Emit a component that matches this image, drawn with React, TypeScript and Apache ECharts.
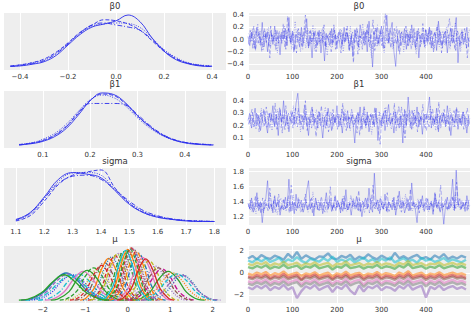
import React, { useEffect, useRef } from 'react';
import * as echarts from 'echarts';

// ---------- KDE panels (left column) ----------
const B0_X = [-0.44, -0.4, -0.35, -0.3, -0.25, -0.2, -0.15, -0.1, -0.05, 0, 0.05, 0.1, 0.15, 0.2, 0.25, 0.3, 0.35, 0.4];
const B0_KDE = [
  [0.03, 0.06, 0.16, 0.31, 0.68, 1.30, 1.92, 2.36, 2.54, 2.73, 3.07, 2.67, 1.71, 0.93, 0.43, 0.19, 0.06, 0.03],
  [0.06, 0.12, 0.25, 0.47, 0.87, 1.43, 2.05, 2.48, 2.79, 2.73, 2.54, 2.17, 1.55, 0.93, 0.47, 0.22, 0.09, 0.03],
  [0.06, 0.12, 0.25, 0.43, 0.81, 1.40, 1.98, 2.42, 2.54, 2.60, 2.57, 2.33, 1.71, 1.02, 0.56, 0.25, 0.12, 0.06],
  [0.03, 0.09, 0.19, 0.37, 0.78, 1.36, 2.02, 2.48, 2.60, 2.48, 2.36, 2.17, 1.61, 0.99, 0.50, 0.22, 0.09, 0.03],
];

const B1_X = [0.05, 0.08, 0.1, 0.125, 0.15, 0.175, 0.2, 0.225, 0.25, 0.275, 0.3, 0.325, 0.35, 0.375, 0.4, 0.43, 0.46];
const B1_KDE = [
  [0.0, 0.22, 0.50, 1.15, 2.30, 4.10, 6.05, 7.13, 6.91, 5.76, 4.03, 2.59, 1.44, 0.72, 0.29, 0.07, 0.0],
  [0.07, 0.29, 0.65, 1.37, 2.59, 4.32, 6.12, 6.98, 6.77, 5.62, 3.96, 2.59, 1.51, 0.79, 0.36, 0.14, 0.0],
  [0.07, 0.36, 0.79, 1.58, 2.88, 4.61, 6.19, 6.84, 6.48, 5.33, 3.74, 2.38, 1.37, 0.72, 0.36, 0.14, 0.07],
  [0.0, 0.29, 0.58, 1.30, 2.52, 4.46, 5.69, 5.69, 5.69, 5.47, 4.18, 2.74, 1.58, 0.79, 0.36, 0.14, 0.0],
];

const SIG_X = [1.1, 1.15, 1.2, 1.25, 1.3, 1.35, 1.4, 1.45, 1.5, 1.55, 1.6, 1.65, 1.7, 1.75, 1.8];
const SIG_KDE = [
  [0.16, 0.72, 1.92, 3.28, 3.80, 3.68, 3.40, 2.40, 1.36, 0.72, 0.36, 0.20, 0.08, 0.04, 0.04],
  [0.08, 0.48, 1.60, 2.88, 3.60, 3.84, 4.00, 2.60, 1.44, 0.72, 0.40, 0.20, 0.12, 0.08, 0.04],
  [0.12, 0.60, 1.80, 3.12, 3.76, 3.80, 3.60, 2.48, 1.48, 0.80, 0.44, 0.24, 0.12, 0.08, 0.04],
  [0.20, 0.68, 1.84, 2.96, 3.52, 3.60, 3.28, 2.48, 1.60, 0.88, 0.48, 0.24, 0.12, 0.04, 0.04],
];

const MU_KDE_COLORS = [
  '#1f77b4', '#9467bd', '#2a2eec', '#17becf', '#e377c2', '#2ca02c', '#bcbd22', '#8c564b', '#ff7f0e', '#d62728',
  '#9467bd', '#2ca02c', '#ff7f0e', '#d62728', '#8c564b', '#1f77b4', '#e377c2', '#bcbd22', '#9467bd', '#c10c90',
  '#2ca02c', '#17becf', '#1f77b4',
  '#17becf', '#2ca02c', '#d62728', '#1f77b4', '#bcbd22', '#17becf', '#2ca02c', '#9467bd', '#ff7f0e', '#d62728',
  '#8c564b', '#ff7f0e', '#9467bd', '#2ca02c',
];
const MU_KDE: number[][][] = [
  [[-2.51, 0], [-2.31, 0.03], [-1.98, 0.31], [-1.71, 0.80], [-1.45, 1.09], [-1.19, 0.80], [-0.92, 0.31], [-0.59, 0.03], [-0.39, 0]],
  [[-2.49, 0], [-2.28, 0.03], [-1.94, 0.29], [-1.67, 0.77], [-1.40, 1.05], [-1.13, 0.77], [-0.86, 0.29], [-0.52, 0.03], [-0.31, 0]],
  [[-2.32, 0], [-2.13, 0.03], [-1.81, 0.28], [-1.56, 0.74], [-1.30, 1.01], [-1.04, 0.74], [-0.79, 0.28], [-0.47, 0.03], [-0.28, 0]],
  [[-2.11, 0], [-1.93, 0.03], [-1.63, 0.29], [-1.39, 0.77], [-1.15, 1.05], [-0.91, 0.77], [-0.67, 0.29], [-0.37, 0.03], [-0.19, 0]],
  [[-1.95, 0], [-1.78, 0.03], [-1.50, 0.32], [-1.27, 0.85], [-1.05, 1.16], [-0.83, 0.85], [-0.60, 0.32], [-0.32, 0.03], [-0.15, 0]],
  [[-1.60, 0], [-1.45, 0.04], [-1.20, 0.36], [-1.00, 0.95], [-0.80, 1.30], [-0.60, 0.95], [-0.40, 0.36], [-0.15, 0.04], [0.00, 0]],
  [[-1.47, 0], [-1.32, 0.04], [-1.08, 0.35], [-0.89, 0.92], [-0.70, 1.26], [-0.51, 0.92], [-0.32, 0.35], [-0.08, 0.04], [0.07, 0]],
  [[-1.25, 0], [-1.12, 0.05], [-0.90, 0.42], [-0.73, 1.10], [-0.55, 1.51], [-0.37, 1.10], [-0.20, 0.42], [0.02, 0.05], [0.15, 0]],
  [[-1.12, 0], [-1.00, 0.05], [-0.79, 0.47], [-0.62, 1.23], [-0.45, 1.68], [-0.28, 1.23], [-0.11, 0.47], [0.10, 0.05], [0.22, 0]],
  [[-0.94, 0], [-0.82, 0.05], [-0.62, 0.50], [-0.46, 1.31], [-0.30, 1.79], [-0.14, 1.31], [0.02, 0.50], [0.22, 0.05], [0.34, 0]],
  [[-0.84, 0], [-0.72, 0.06], [-0.52, 0.53], [-0.36, 1.38], [-0.20, 1.89], [-0.04, 1.38], [0.12, 0.53], [0.32, 0.06], [0.44, 0]],
  [[-0.71, 0], [-0.59, 0.06], [-0.40, 0.55], [-0.25, 1.42], [-0.10, 1.95], [0.05, 1.42], [0.20, 0.55], [0.39, 0.06], [0.51, 0]],
  [[-0.61, 0], [-0.49, 0.06], [-0.30, 0.57], [-0.15, 1.49], [0.00, 2.04], [0.15, 1.49], [0.30, 0.57], [0.49, 0.06], [0.61, 0]],
  [[-0.53, 0], [-0.41, 0.06], [-0.22, 0.59], [-0.07, 1.53], [0.08, 2.10], [0.23, 1.53], [0.38, 0.59], [0.57, 0.06], [0.69, 0]],
  [[-0.46, 0], [-0.34, 0.06], [-0.15, 0.57], [0.00, 1.47], [0.15, 2.02], [0.30, 1.47], [0.45, 0.57], [0.64, 0.06], [0.76, 0]],
  [[-0.39, 0], [-0.27, 0.06], [-0.07, 0.53], [0.09, 1.38], [0.25, 1.89], [0.41, 1.38], [0.57, 0.53], [0.77, 0.06], [0.89, 0]],
  [[-0.32, 0], [-0.20, 0.05], [0.01, 0.48], [0.18, 1.26], [0.35, 1.72], [0.52, 1.26], [0.69, 0.48], [0.90, 0.05], [1.02, 0]],
  [[-0.20, 0], [-0.07, 0.05], [0.15, 0.44], [0.32, 1.15], [0.50, 1.58], [0.68, 1.15], [0.85, 0.44], [1.07, 0.05], [1.20, 0]],
  [[-0.12, 0], [0.03, 0.04], [0.27, 0.38], [0.46, 1.00], [0.65, 1.37], [0.84, 1.00], [1.03, 0.38], [1.27, 0.04], [1.42, 0]],
  [[0.00, 0], [0.15, 0.04], [0.40, 0.35], [0.60, 0.92], [0.80, 1.26], [1.00, 0.92], [1.20, 0.35], [1.45, 0.04], [1.60, 0]],
  [[0.09, 0], [0.25, 0.03], [0.52, 0.32], [0.73, 0.85], [0.95, 1.16], [1.17, 0.85], [1.38, 0.32], [1.65, 0.03], [1.81, 0]],
  [[0.19, 0], [0.37, 0.03], [0.67, 0.29], [0.91, 0.77], [1.15, 1.05], [1.39, 0.77], [1.63, 0.29], [1.93, 0.03], [2.11, 0]],
  [[0.47, 0], [0.62, 0.03], [0.88, 0.28], [1.09, 0.74], [1.30, 1.01], [1.51, 0.74], [1.72, 0.28], [1.98, 0.03], [2.13, 0]],
  [[-2.41, 0], [-2.21, 0.03], [-1.88, 0.28], [-1.61, 0.73], [-1.35, 1.00], [-1.09, 0.73], [-0.82, 0.28], [-0.49, 0.03], [-0.29, 0]],
  [[-1.81, 0], [-1.65, 0.04], [-1.38, 0.34], [-1.17, 0.88], [-0.95, 1.20], [-0.73, 0.88], [-0.52, 0.34], [-0.25, 0.04], [-0.09, 0]],
  [[-1.36, 0], [-1.22, 0.04], [-0.99, 0.39], [-0.80, 1.02], [-0.62, 1.40], [-0.44, 1.02], [-0.25, 0.39], [-0.02, 0.04], [0.12, 0]],
  [[-1.05, 0], [-0.93, 0.05], [-0.72, 0.49], [-0.55, 1.27], [-0.38, 1.74], [-0.21, 1.27], [-0.04, 0.49], [0.17, 0.05], [0.29, 0]],
  [[-0.89, 0], [-0.77, 0.06], [-0.57, 0.52], [-0.41, 1.35], [-0.25, 1.85], [-0.09, 1.35], [0.07, 0.52], [0.27, 0.06], [0.39, 0]],
  [[-0.66, 0], [-0.54, 0.06], [-0.35, 0.56], [-0.20, 1.46], [-0.05, 2.00], [0.10, 1.46], [0.25, 0.56], [0.44, 0.06], [0.56, 0]],
  [[-0.56, 0], [-0.44, 0.06], [-0.25, 0.58], [-0.10, 1.50], [0.05, 2.06], [0.20, 1.50], [0.35, 0.58], [0.54, 0.06], [0.66, 0]],
  [[-0.49, 0], [-0.37, 0.06], [-0.18, 0.58], [-0.03, 1.52], [0.12, 2.08], [0.27, 1.52], [0.42, 0.58], [0.61, 0.06], [0.73, 0]],
  [[-0.44, 0], [-0.32, 0.06], [-0.12, 0.55], [0.04, 1.42], [0.20, 1.95], [0.36, 1.42], [0.52, 0.55], [0.72, 0.06], [0.84, 0]],
  [[-0.25, 0], [-0.13, 0.05], [0.08, 0.46], [0.25, 1.21], [0.42, 1.66], [0.59, 1.21], [0.76, 0.46], [0.97, 0.05], [1.09, 0]],
  [[-0.08, 0], [0.07, 0.04], [0.32, 0.36], [0.52, 0.95], [0.72, 1.30], [0.92, 0.95], [1.12, 0.36], [1.37, 0.04], [1.52, 0]],
  [[0.15, 0], [0.32, 0.03], [0.60, 0.31], [0.83, 0.80], [1.05, 1.10], [1.27, 0.80], [1.50, 0.31], [1.78, 0.03], [1.95, 0]],
  [[0.32, 0], [0.50, 0.03], [0.79, 0.29], [1.02, 0.74], [1.25, 1.02], [1.48, 0.74], [1.71, 0.29], [2.00, 0.03], [2.18, 0]],
  [[-2.56, 0], [-2.36, 0.03], [-2.03, 0.29], [-1.76, 0.74], [-1.50, 1.02], [-1.24, 0.74], [-0.97, 0.29], [-0.64, 0.03], [-0.44, 0]],
];

// ---------- trace panels (right column), four chains each ----------
const B0_TRACE = [
  [0.05, -0.10, 0.12, 0.02, -0.15, 0.20, 0.08, -0.05, 0.28, -0.12, 0.10, -0.20, 0.04, 0.15, -0.08, 0.22, -0.02, 0.06, -0.25, 0.12,
    0.00, 0.18, -0.10, 0.36, -0.04, 0.14, -0.18, 0.08, 0.02, -0.12, 0.20, -0.06, 0.10, 0.34, -0.14, 0.05, -0.30, 0.12, 0.00, -0.08,
    0.15, -0.22, 0.06, -0.35, 0.10, 0.02, -0.10, 0.18, -0.05, 0.08, -0.15, 0.12, 0.04, -0.08, 0.20, -0.02, 0.10, -0.18, 0.06, -0.28,
    0.16, 0.00, -0.12, 0.24, 0.05, -0.06, 0.12, -0.20, 0.30, -0.02, -0.45, 0.10, 0.18, -0.08, 0.04, 0.22, -0.14, 0.08, 0.40, -0.05,
    0.12, 0.28, -0.20, -0.44, 0.06, 0.15, -0.10, 0.02, 0.18, -0.16, 0.08, -0.05, 0.24, 0.00, -0.12, 0.14, -0.30, 0.06, 0.10, -0.08,
    0.16, -0.02, 0.20, -0.14, 0.05, 0.12, -0.18, 0.30, 0.00, -0.10, 0.08, 0.14, -0.22, 0.04, 0.18, -0.06, 0.10, 0.36, -0.38, 0.06,
    0.12, -0.08, 0.02, 0.20, -0.12],
  [-0.08, 0.15, -0.02, 0.22, -0.18, 0.04, 0.10, -0.12, 0.06, 0.18, -0.05, 0.12, -0.30, 0.08, 0.02, -0.10, 0.16, -0.06, 0.10, 0.00,
    0.14, -0.16, 0.38, 0.04, -0.08, 0.12, 0.02, -0.22, 0.18, 0.06, -0.10, 0.08, 0.40, 0.00, -0.12, 0.16, -0.04, 0.10, -0.20, 0.14,
    -0.06, 0.02, 0.20, -0.12, 0.08, -0.02, 0.14, -0.08, 0.24, -0.16, 0.06, 0.00, -0.22, 0.12, -0.06, 0.18, 0.02, -0.10, 0.08, -0.38,
    0.10, 0.20, -0.04, 0.06, -0.16, 0.14, 0.00, 0.26, -0.12, 0.04, 0.32, -0.18, 0.08, -0.06, 0.16, -0.10, 0.22, 0.42, -0.02, 0.10,
    -0.14, 0.06, 0.18, -0.08, 0.02, -0.24, 0.12, 0.04, -0.06, 0.16, -0.10, 0.08, 0.00, 0.20, -0.16, 0.06, 0.12, -0.04, 0.26, -0.12,
    0.02, 0.10, -0.08, 0.16, -0.20, 0.04, 0.22, -0.06, 0.12, -0.14, 0.06, -0.10, 0.18, 0.34, -0.02, 0.08, -0.16, 0.10, 0.02, -0.12,
    0.16, -0.04, 0.10, -0.30, 0.06],
  [0.10, -0.04, 0.18, -0.14, 0.06, 0.26, -0.08, 0.02, -0.18, 0.14, 0.04, 0.20, -0.12, 0.08, -0.02, 0.16, -0.22, 0.10, 0.00, -0.06,
    0.22, -0.10, 0.06, 0.14, -0.16, 0.02, 0.30, -0.04, 0.12, -0.20, 0.08, 0.00, -0.14, 0.18, 0.04, -0.08, 0.24, -0.18, 0.06, 0.12,
    -0.10, 0.16, -0.04, 0.08, -0.26, 0.02, 0.14, -0.12, 0.20, 0.00, 0.10, -0.08, 0.16, -0.20, 0.04, 0.12, -0.06, 0.22, -0.14, 0.02,
    -0.04, 0.14, -0.18, 0.08, 0.26, -0.10, 0.04, 0.16, -0.08, -0.30, 0.06, 0.20, -0.12, 0.02, 0.14, -0.04, -0.22, 0.10, 0.18, -0.06,
    0.04, -0.16, 0.10, 0.22, -0.08, 0.00, 0.14, -0.20, 0.06, 0.12, -0.02, 0.18, -0.10, 0.06, -0.24, 0.14, 0.02, -0.08, 0.20, -0.14,
    0.10, -0.04, 0.16, 0.00, -0.18, 0.08, 0.24, -0.12, 0.04, 0.14, -0.08, 0.20, 0.02, -0.16, 0.10, -0.04, 0.28, -0.10, 0.06, -0.20,
    0.14, 0.00, -0.10, 0.08, 0.16],
  [-0.02, 0.12, -0.16, 0.06, 0.18, -0.06, 0.14, -0.20, 0.08, 0.00, 0.16, -0.10, 0.22, -0.04, 0.10, -0.18, 0.06, 0.14, -0.08, 0.26,
    -0.12, 0.04, 0.18, -0.06, 0.10, -0.22, 0.08, 0.16, -0.02, 0.12, -0.16, 0.20, 0.02, -0.10, 0.14, -0.04, 0.08, 0.18, -0.14, 0.00,
    0.12, -0.06, 0.24, -0.16, 0.04, 0.10, -0.20, 0.06, 0.16, -0.08, 0.00, 0.18, -0.12, 0.08, -0.04, 0.22, -0.18, 0.04, 0.12, -0.06,
    0.16, -0.24, 0.06, 0.00, 0.14, -0.10, 0.20, -0.04, 0.08, -0.16, 0.12, -0.02, 0.24, -0.10, 0.06, 0.16, -0.14, 0.02, -0.08, 0.20,
    0.08, -0.12, 0.00, 0.16, -0.20, 0.10, 0.04, -0.06, 0.22, -0.10, 0.14, -0.16, 0.06, 0.12, -0.02, 0.18, -0.12, 0.04, -0.06, 0.16,
    -0.10, 0.20, 0.00, -0.14, 0.10, 0.06, -0.08, 0.16, -0.22, 0.04, 0.12, -0.06, 0.08, -0.12, 0.22, 0.00, -0.18, 0.14, 0.04, -0.08,
    0.10, 0.18, -0.14, 0.02, -0.06],
];

const B1_TRACE = [
  [0.24, 0.30, 0.18, 0.26, 0.34, 0.20, 0.28, 0.16, 0.25, 0.32, 0.22, 0.14, 0.30, 0.24, 0.36, 0.19, 0.27, 0.12, 0.33, 0.23,
    0.40, 0.20, 0.28, 0.15, 0.26, 0.31, 0.21, 0.38, 0.46, 0.25, 0.22, 0.17, 0.30, 0.24, 0.12, 0.29, 0.35, 0.20, 0.26, 0.18,
    0.31, 0.23, 0.10, 0.27, 0.20, 0.34, 0.25, 0.16, 0.29, 0.22, 0.36, 0.19, 0.26, 0.14, 0.30, 0.24, 0.32, 0.18, 0.27, 0.21,
    0.06, 0.28, 0.23, 0.35, 0.17, 0.26, 0.20, 0.31, 0.15, 0.24, 0.29, 0.19, 0.34, 0.08, 0.25, 0.22, 0.30, 0.16, 0.27, 0.37,
    0.21, 0.26, 0.14, 0.31, 0.23, 0.18, 0.28, 0.06, 0.33, 0.20, 0.43, 0.24, 0.17, 0.30, 0.22, 0.35, 0.19, 0.27, 0.13, 0.29,
    0.25, 0.32, 0.43, 0.18, 0.26, 0.21, 0.34, 0.15, 0.28, 0.23, 0.30, 0.19, 0.36, 0.24, 0.12, 0.27, 0.22, 0.33, 0.17, 0.26,
    0.20, 0.31, 0.24, 0.14, 0.28],
  [0.21, 0.27, 0.33, 0.19, 0.25, 0.29, 0.15, 0.31, 0.23, 0.20, 0.35, 0.26, 0.18, 0.29, 0.22, 0.38, 0.17, 0.26, 0.30, 0.14,
    0.28, 0.36, 0.21, 0.25, 0.32, 0.18, 0.27, 0.22, 0.34, 0.20, 0.29, 0.24, 0.40, 0.16, 0.27, 0.21, 0.33, 0.25, 0.11, 0.28,
    0.24, 0.36, 0.19, 0.26, 0.31, 0.15, 0.23, 0.30, 0.20, 0.27, 0.17, 0.29, 0.24, 0.38, 0.21, 0.16, 0.28, 0.25, 0.33, 0.19,
    0.27, 0.14, 0.31, 0.22, 0.26, 0.36, 0.18, 0.29, 0.23, 0.30, 0.20, 0.35, 0.25, 0.17, 0.05, 0.28, 0.22, 0.32, 0.19, 0.26,
    0.30, 0.23, 0.38, 0.16, 0.27, 0.21, 0.35, 0.24, 0.10, 0.29, 0.26, 0.18, 0.33, 0.21, 0.28, 0.15, 0.30, 0.24, 0.37, 0.20,
    0.16, 0.29, 0.24, 0.31, 0.20, 0.27, 0.22, 0.39, 0.18, 0.25, 0.33, 0.21, 0.28, 0.15, 0.30, 0.24, 0.19, 0.35, 0.26, 0.22,
    0.29, 0.17, 0.27, 0.34, 0.21],
  [0.26, 0.20, 0.31, 0.23, 0.17, 0.29, 0.25, 0.34, 0.19, 0.27, 0.22, 0.30, 0.26, 0.16, 0.28, 0.24, 0.33, 0.21, 0.18, 0.29,
    0.25, 0.32, 0.17, 0.27, 0.23, 0.36, 0.20, 0.26, 0.30, 0.15, 0.28, 0.21, 0.34, 0.25, 0.19, 0.31, 0.23, 0.27, 0.33, 0.18,
    0.26, 0.22, 0.29, 0.35, 0.20, 0.25, 0.31, 0.17, 0.27, 0.23, 0.30, 0.24, 0.19, 0.28, 0.33, 0.21, 0.26, 0.16, 0.29, 0.25,
    0.22, 0.31, 0.27, 0.18, 0.24, 0.34, 0.20, 0.28, 0.23, 0.13, 0.27, 0.32, 0.21, 0.26, 0.30, 0.19, 0.24, 0.35, 0.22, 0.28,
    0.17, 0.25, 0.31, 0.23, 0.20, 0.29, 0.26, 0.14, 0.32, 0.24, 0.28, 0.21, 0.26, 0.33, 0.19, 0.27, 0.23, 0.30, 0.25, 0.18,
    0.29, 0.24, 0.36, 0.21, 0.27, 0.16, 0.30, 0.25, 0.22, 0.31, 0.26, 0.20, 0.28, 0.34, 0.23, 0.19, 0.27, 0.24, 0.32, 0.21,
    0.25, 0.29, 0.18, 0.26, 0.23],
  [0.22, 0.28, 0.24, 0.19, 0.30, 0.26, 0.21, 0.27, 0.33, 0.23, 0.18, 0.26, 0.31, 0.24, 0.20, 0.29, 0.25, 0.35, 0.22, 0.27,
    0.16, 0.24, 0.30, 0.26, 0.21, 0.28, 0.34, 0.19, 0.25, 0.29, 0.23, 0.37, 0.20, 0.27, 0.24, 0.18, 0.30, 0.22, 0.26, 0.32,
    0.20, 0.27, 0.24, 0.17, 0.31, 0.25, 0.21, 0.33, 0.23, 0.28, 0.26, 0.20, 0.34, 0.24, 0.29, 0.18, 0.27, 0.23, 0.31, 0.21,
    0.25, 0.30, 0.12, 0.26, 0.32, 0.22, 0.27, 0.19, 0.29, 0.24, 0.21, 0.27, 0.25, 0.31, 0.18, 0.26, 0.34, 0.23, 0.28, 0.20,
    0.24, 0.30, 0.22, 0.27, 0.36, 0.19, 0.25, 0.29, 0.21, 0.27, 0.33, 0.23, 0.18, 0.28, 0.25, 0.31, 0.20, 0.26, 0.22, 0.30,
    0.24, 0.19, 0.27, 0.33, 0.23, 0.28, 0.17, 0.26, 0.30, 0.22, 0.27, 0.25, 0.21, 0.29, 0.24, 0.32, 0.26, 0.20, 0.28, 0.23,
    0.31, 0.22, 0.26, 0.19, 0.27],
];

const SIG_TRACE = [
  [1.38, 1.30, 1.45, 1.26, 1.34, 1.52, 1.28, 1.40, 1.12, 1.36, 1.44, 1.68, 1.30, 1.37, 1.25, 1.48, 1.33, 1.42, 1.22, 1.35,
    1.29, 1.46, 1.32, 1.70, 1.27, 1.39, 1.24, 1.50, 1.31, 1.36, 1.42, 1.26, 1.34, 1.55, 1.68, 1.30, 1.38, 1.21, 1.45, 1.33,
    1.28, 1.40, 1.24, 1.36, 1.52, 1.30, 1.43, 1.27, 1.35, 1.48, 1.32, 1.38, 1.25, 1.44, 1.30, 1.56, 1.29, 1.37, 1.22, 1.41,
    1.34, 1.47, 1.28, 1.39, 1.20, 1.36, 1.45, 1.31, 1.58, 1.33, 1.26, 1.78, 1.35, 1.42, 1.24, 1.38, 1.30, 1.50, 1.27, 1.40,
    1.36, 1.29, 1.46, 1.22, 1.37, 1.54, 1.31, 1.40, 1.25, 1.34, 1.43, 1.28, 1.65, 1.36, 1.30, 1.12, 1.41, 1.33, 1.48, 1.27,
    1.35, 1.44, 1.29, 1.38, 1.23, 1.52, 1.32, 1.40, 1.26, 1.37, 1.10, 1.34, 1.46, 1.30, 1.42, 1.70, 1.28, 1.82, 1.36, 1.44,
    1.31, 1.39, 1.27, 1.48, 1.34],
  [1.33, 1.42, 1.27, 1.36, 1.48, 1.31, 1.39, 1.24, 1.45, 1.30, 1.37, 1.28, 1.58, 1.34, 1.41, 1.26, 1.38, 1.50, 1.29, 1.35,
    1.44, 1.31, 1.37, 1.25, 1.62, 1.33, 1.40, 1.28, 1.46, 1.32, 1.27, 1.38, 1.50, 1.30, 1.36, 1.43, 1.24, 1.35, 1.41, 1.29,
    1.36, 1.47, 1.31, 1.26, 1.39, 1.34, 1.60, 1.30, 1.37, 1.28, 1.43, 1.33, 1.40, 1.26, 1.48, 1.35, 1.29, 1.38, 1.32, 1.45,
    1.30, 1.36, 1.55, 1.27, 1.41, 1.33, 1.38, 1.46, 1.25, 1.35, 1.62, 1.31, 1.39, 1.28, 1.44, 1.34, 1.30, 1.40, 1.52, 1.27,
    1.35, 1.42, 1.29, 1.37, 1.48, 1.31, 1.26, 1.39, 1.34, 1.45, 1.28, 1.57, 1.33, 1.40, 1.30, 1.36, 1.25, 1.43, 1.32, 1.38,
    1.46, 1.29, 1.35, 1.41, 1.27, 1.50, 1.33, 1.38, 1.62, 1.31, 1.36, 1.44, 1.28, 1.39, 1.33, 1.47, 1.30, 1.66, 1.35, 1.29,
    1.42, 1.34, 1.38, 1.27, 1.45],
  [1.36, 1.29, 1.41, 1.33, 1.24, 1.46, 1.31, 1.38, 1.27, 1.43, 1.32, 1.36, 1.51, 1.28, 1.40, 1.34, 1.23, 1.39, 1.45, 1.30,
    1.35, 1.27, 1.42, 1.31, 1.37, 1.49, 1.29, 1.34, 1.40, 1.26, 1.38, 1.33, 1.44, 1.28, 1.36, 1.31, 1.53, 1.30, 1.37, 1.42,
    1.29, 1.35, 1.40, 1.32, 1.26, 1.38, 1.45, 1.31, 1.36, 1.28, 1.41, 1.34, 1.30, 1.47, 1.33, 1.27, 1.39, 1.35, 1.42, 1.31,
    1.36, 1.29, 1.44, 1.33, 1.38, 1.25, 1.40, 1.34, 1.31, 1.48, 1.35, 1.30, 1.43, 1.37, 1.28, 1.41, 1.33, 1.36, 1.26, 1.39,
    1.32, 1.45, 1.34, 1.29, 1.38, 1.42, 1.31, 1.35, 1.50, 1.30, 1.37, 1.33, 1.28, 1.40, 1.35, 1.44, 1.31, 1.36, 1.29, 1.39,
    1.34, 1.27, 1.41, 1.36, 1.32, 1.46, 1.30, 1.38, 1.34, 1.28, 1.40, 1.35, 1.31, 1.43, 1.37, 1.29, 1.52, 1.33, 1.38, 1.31,
    1.36, 1.30, 1.42, 1.34, 1.37],
  [1.31, 1.40, 1.34, 1.28, 1.43, 1.36, 1.30, 1.38, 1.25, 1.35, 1.41, 1.32, 1.37, 1.29, 1.46, 1.34, 1.39, 1.27, 1.33, 1.42,
    1.30, 1.36, 1.48, 1.32, 1.28, 1.39, 1.35, 1.31, 1.44, 1.37, 1.29, 1.34, 1.40, 1.26, 1.38, 1.45, 1.32, 1.36, 1.30, 1.41,
    1.35, 1.28, 1.37, 1.43, 1.31, 1.34, 1.39, 1.27, 1.46, 1.33, 1.38, 1.30, 1.35, 1.41, 1.29, 1.36, 1.32, 1.48, 1.34, 1.38,
    1.31, 1.42, 1.27, 1.35, 1.40, 1.33, 1.29, 1.37, 1.44, 1.32, 1.36, 1.39, 1.30, 1.34, 1.47, 1.31, 1.37, 1.28, 1.40, 1.35,
    1.33, 1.38, 1.29, 1.42, 1.36, 1.31, 1.45, 1.34, 1.30, 1.39, 1.35, 1.28, 1.41, 1.33, 1.37, 1.30, 1.43, 1.36, 1.32, 1.40,
    1.29, 1.35, 1.38, 1.31, 1.44, 1.34, 1.37, 1.28, 1.41, 1.33, 1.39, 1.30, 1.36, 1.32, 1.46, 1.35, 1.31, 1.40, 1.34, 1.29,
    1.37, 1.33, 1.41, 1.30, 1.36],
];

const MU_TRACE_COLORS = ['#1f77b4', '#17becf', '#bcbd22', '#2ca02c', '#ff7f0e', '#d62728', '#8c564b', '#e377c2', '#7f7f7f', '#9467bd'];
const MU_TRACE = [
  [1.30, 1.52, 1.22, 1.61, 1.38, 1.26, 1.55, 1.41, 1.19, 1.72, 1.33, 1.88, 1.27, 1.58, 1.36, 1.21, 1.49, 1.43, 1.76, 1.31, 1.24, 1.53, 1.37, 1.64, 1.18, 1.46, 1.29, 1.67, 1.40, 1.23, 1.56, 1.34, 1.20, 1.81, 1.32, 1.51, 1.26, 1.47, 1.62, 1.28, 1.42, 1.21, 1.57, 1.35, 1.70, 1.25, 1.48, 1.30, 1.54, 1.37],
  [1.12, 0.96, 1.27, 1.04, 1.31, 0.99, 1.16, 1.36, 0.93, 1.22, 1.06, 1.42, 1.09, 0.91, 1.26, 1.14, 1.01, 1.33, 1.08, 1.47, 0.98, 1.21, 1.05, 1.30, 0.94, 1.17, 1.38, 1.03, 1.24, 0.97, 1.28, 1.11, 1.41, 0.95, 1.15, 1.32, 1.04, 1.19, 0.92, 1.36, 1.10, 1.25, 0.99, 1.13, 1.34, 1.02, 1.23, 1.08, 0.96, 1.19],
  [0.82, 0.69, 0.93, 0.76, 0.97, 0.64, 0.86, 0.73, 1.02, 0.71, 0.79, 0.92, 0.63, 0.87, 0.74, 0.96, 0.68, 0.81, 0.91, 0.58, 0.84, 0.76, 1.04, 0.69, 0.80, 0.89, 0.66, 0.85, 0.73, 0.98, 0.71, 0.86, 0.78, 0.62, 0.92, 0.75, 1.07, 0.70, 0.81, 0.88, 0.65, 0.84, 0.77, 0.95, 0.69, 0.82, 0.90, 0.74, 0.86, 0.71],
  [0.52, 0.41, 0.63, 0.47, 0.69, 0.38, 0.57, 0.46, 0.74, 0.43, 0.55, 0.66, 0.36, 0.59, 0.48, 0.71, 0.42, 0.53, 0.64, 0.31, 0.58, 0.47, 0.76, 0.44, 0.51, 0.62, 0.39, 0.57, 0.49, 0.72, 0.43, 0.60, 0.52, 0.37, 0.66, 0.48, 0.81, 0.44, 0.54, 0.63, 0.38, 0.58, 0.46, 0.69, 0.42, 0.55, 0.65, 0.47, 0.61, 0.43],
  [-0.06, -0.18, 0.04, -0.12, 0.09, -0.22, -0.02, -0.14, 0.13, -0.19, -0.08, 0.03, -0.26, -0.04, -0.15, 0.07, -0.21, -0.09, 0.02, -0.29, -0.03, -0.16, 0.11, -0.20, -0.07, 0.01, -0.24, -0.05, -0.13, 0.08, -0.18, -0.02, -0.10, -0.27, 0.04, -0.14, 0.16, -0.21, -0.08, 0.02, -0.25, -0.06, -0.15, 0.06, -0.19, -0.09, 0.03, -0.13, -0.04, -0.20],
  [-0.31, -0.42, -0.19, -0.36, -0.14, -0.47, -0.26, -0.37, -0.09, -0.41, -0.29, -0.18, -0.58, -0.24, -0.35, -0.13, -0.43, -0.30, -0.21, -0.52, -0.23, -0.38, -0.11, -0.44, -0.28, -0.17, -0.49, -0.26, -0.34, -0.12, -0.45, -0.24, -0.31, -0.47, -0.19, -0.36, -0.06, -0.42, -0.29, -0.20, -0.46, -0.25, -0.37, -0.14, -0.41, -0.31, -0.18, -0.35, -0.27, -0.43],
  [-0.44, -0.55, -0.36, -0.50, -0.31, -0.59, -0.40, -0.52, -0.28, -0.56, -0.43, -0.34, -0.66, -0.39, -0.51, -0.30, -0.58, -0.45, -0.35, -0.63, -0.38, -0.53, -0.27, -0.57, -0.42, -0.33, -0.64, -0.40, -0.49, -0.29, -0.58, -0.39, -0.46, -0.61, -0.35, -0.52, -0.24, -0.55, -0.44, -0.34, -0.62, -0.40, -0.54, -0.31, -0.57, -0.45, -0.33, -0.50, -0.41, -0.56],
  [-0.74, -0.88, -0.62, -0.81, -0.57, -0.93, -0.69, -0.84, -0.54, -0.89, -0.72, -0.60, -1.02, -0.67, -0.82, -0.56, -0.91, -0.75, -0.63, -0.97, -0.68, -0.86, -0.52, -0.90, -0.71, -0.59, -1.05, -0.66, -0.79, -0.55, -0.92, -0.68, -0.76, -0.95, -0.61, -0.83, -0.50, -0.87, -0.73, -0.62, -0.98, -0.67, -0.85, -0.58, -0.90, -0.74, -0.61, -0.81, -0.69, -0.88],
  [-0.96, -1.08, -0.84, -1.02, -0.80, -1.14, -0.91, -1.05, -0.77, -1.10, -0.93, -0.82, -1.22, -0.88, -1.03, -0.79, -1.12, -0.97, -0.85, -1.18, -0.90, -1.06, -0.75, -1.11, -0.94, -0.81, -1.25, -0.89, -1.00, -0.78, -1.13, -0.90, -0.98, -1.16, -0.83, -1.04, -0.72, -1.09, -0.95, -0.84, -1.20, -0.88, -1.07, -0.80, -1.11, -0.96, -0.83, -1.02, -0.91, -1.09],
  [-1.28, -1.46, -1.15, -1.39, -1.10, -1.55, -1.24, -1.42, -1.06, -1.50, -1.27, -2.25, -1.62, -1.19, -1.40, -1.08, -1.52, -1.31, -1.14, -1.70, -1.22, -1.44, -1.03, -1.58, -1.92, -1.12, -1.66, -1.21, -1.37, -1.09, -1.54, -1.25, -1.33, -1.60, -1.16, -1.41, -1.01, -1.49, -1.29, -1.13, -2.20, -1.23, -1.45, -1.11, -1.53, -1.30, -1.17, -1.43, -1.26, -1.48],
];

// ---------- ticks / titles ----------
const TITLES = ['\u03b20', '\u03b21', 'sigma', '\u03bc'];
const KDE_TICKS = [[-0.4, -0.2, 0, 0.2, 0.4], [0.1, 0.2, 0.3, 0.4], [1.1, 1.2, 1.3, 1.4, 1.5, 1.6, 1.7, 1.8], [-2, -1, 0, 1, 2]];
const KDE_DEC = [1, 1, 1, 0];
const TRACE_X_TICKS = [0, 100, 200, 300, 400];
const TRACE_Y_TICKS = [[-0.4, -0.2, 0, 0.2, 0.4], [0.1, 0.2, 0.3, 0.4], [1.2, 1.4, 1.6, 1.8], [-2, 0, 2]];
const TRACE_DEC = [1, 1, 1, 0];

// layout
const ROW_TOP = [13, 91, 168, 246];
const ROW_H = 57;
const LEFT_X = 4;
const RIGHT_X = 248;
const PANEL_W = 222;
const KDE_XRANGE = [[-0.467, 0.458], [0.018, 0.487], [1.058, 1.841], [-2.91, 2.31]];
const KDE_YRANGE = [[-0.18, 3.19], [-0.41, 7.4], [-0.23, 4.15], [-0.12, 2.18]];
const TRACE_YRANGE = [[-0.498, 0.433], [0.02, 0.478], [1.089, 1.849], [-2.69, 2.42]];

const BLUE = '#2a2eec';
const CHAIN_STYLES: any[] = ['solid', [4, 2], [1, 1.5], [5, 2, 1, 2]];
const FONT = 'DejaVu Sans';
const TXT = '#333333';

const fmt = (d: number) => (v: number) => {
  const s = Math.abs(v) < 1e-9 ? (0).toFixed(d) : v.toFixed(d);
  return s.replace('-', '\u2212');
};

function buildOption() {
  const grid: any[] = [];
  const xAxis: any[] = [];
  const yAxis: any[] = [];
  const series: any[] = [];
  const graphic: any[] = [];

  for (let r = 0; r < 4; r++) {
    grid.push({ left: LEFT_X, top: ROW_TOP[r], width: PANEL_W, height: ROW_H, show: true, backgroundColor: '#eeeeee', borderWidth: 0 });
    grid.push({ left: RIGHT_X, top: ROW_TOP[r], width: PANEL_W, height: ROW_H, show: true, backgroundColor: '#eeeeee', borderWidth: 0 });
    const gl = r * 2;
    const gr = r * 2 + 1;
    xAxis.push({
      type: 'value', gridIndex: gl, min: KDE_XRANGE[r][0], max: KDE_XRANGE[r][1],
      axisLine: { show: false }, axisTick: { show: false, customValues: KDE_TICKS[r] },
      axisLabel: { customValues: KDE_TICKS[r], formatter: fmt(KDE_DEC[r]), fontSize: 7, fontFamily: FONT, color: TXT, margin: 3 },
      splitLine: { show: true, lineStyle: { color: '#ffffff', width: 1 } },
    });
    yAxis.push({
      type: 'value', gridIndex: gl, min: KDE_YRANGE[r][0], max: KDE_YRANGE[r][1],
      axisLine: { show: false }, axisTick: { show: false }, axisLabel: { show: false }, splitLine: { show: false },
    });
    xAxis.push({
      type: 'value', gridIndex: gr, min: 0, max: 499,
      axisLine: { show: false }, axisTick: { show: false, customValues: TRACE_X_TICKS },
      axisLabel: { customValues: TRACE_X_TICKS, fontSize: 7, fontFamily: FONT, color: TXT, margin: 3 },
      splitLine: { show: true, lineStyle: { color: '#ffffff', width: 1 } },
    });
    yAxis.push({
      type: 'value', gridIndex: gr, min: TRACE_YRANGE[r][0], max: TRACE_YRANGE[r][1],
      axisLine: { show: false }, axisTick: { show: false, customValues: TRACE_Y_TICKS[r] },
      axisLabel: { customValues: TRACE_Y_TICKS[r], formatter: fmt(TRACE_DEC[r]), fontSize: 7, fontFamily: FONT, color: TXT, margin: 4 },
      splitLine: { show: true, lineStyle: { color: '#ffffff', width: 1 } },
    });
    graphic.push({ type: 'text', x: LEFT_X + PANEL_W / 2, y: ROW_TOP[r] - 7, style: { text: TITLES[r], fill: TXT, fontSize: 8.5, fontFamily: FONT, align: 'center', verticalAlign: 'middle' } });
    graphic.push({ type: 'text', x: RIGHT_X + PANEL_W / 2, y: ROW_TOP[r] - 7, style: { text: TITLES[r], fill: TXT, fontSize: 8.5, fontFamily: FONT, align: 'center', verticalAlign: 'middle' } });
  }

  const kdeSets: [number[], number[][]][] = [[B0_X, B0_KDE], [B1_X, B1_KDE], [SIG_X, SIG_KDE]];
  kdeSets.forEach(([xs, chains], r) => {
    chains.forEach((ys, c) => {
      series.push({
        type: 'line', xAxisIndex: r * 2, yAxisIndex: r * 2, showSymbol: false, smooth: 0.4,
        data: xs.map((x, i) => [x, ys[i]]),
        lineStyle: { color: BLUE, width: 0.9, type: CHAIN_STYLES[c] },
        silent: true,
      });
    });
  });
  MU_KDE.forEach((pts, i) => {
    series.push({
      type: 'line', xAxisIndex: 6, yAxisIndex: 6, showSymbol: false, smooth: 0.4,
      data: pts, lineStyle: { color: MU_KDE_COLORS[i], width: 1.3, type: CHAIN_STYLES[i % 4] }, silent: true,
    });
  });

  const traceSets = [B0_TRACE, B1_TRACE, SIG_TRACE];
  traceSets.forEach((chains, r) => {
    chains.forEach((vals, c) => {
      series.push({
        type: 'line', xAxisIndex: r * 2 + 1, yAxisIndex: r * 2 + 1, showSymbol: false,
        data: vals.map((v, i) => [i * 4 + c, v]),
        lineStyle: { color: BLUE, width: 0.7, opacity: 0.5, type: CHAIN_STYLES[c] },
        silent: true,
      });
    });
  });
  MU_TRACE.forEach((vals, i) => {
    series.push({
      type: 'line', xAxisIndex: 7, yAxisIndex: 7, showSymbol: false,
      data: vals.map((v, k) => [k * 10, v]),
      lineStyle: { color: MU_TRACE_COLORS[i], width: 2.4, opacity: 0.55 },
      silent: true,
    });
  });

  return { animation: false, grid, xAxis, yAxis, series, graphic };
}

export default function App() {
  const ref = useRef<HTMLDivElement>(null);
  useEffect(() => {
    const chart = echarts.init(ref.current!, null, { renderer: 'svg' });
    chart.setOption(buildOption() as any);
    return () => chart.dispose();
  }, []);
  return <div ref={ref} style={{ position: 'fixed', left: 0, top: 0, width: 474, height: 317, background: '#ffffff' }} />;
}
